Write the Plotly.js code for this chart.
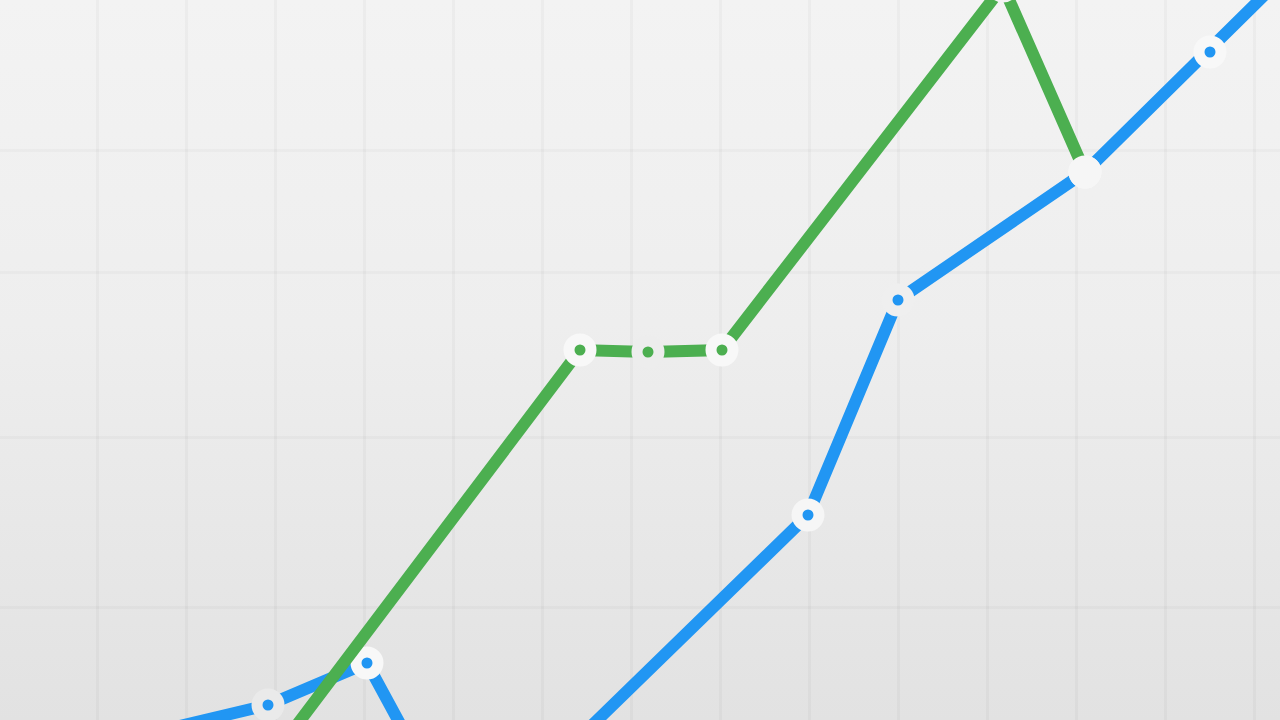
<!DOCTYPE html>
<html>
<head>
<meta charset="utf-8">
<script src="https://cdn.plot.ly/plotly-3.0.1.min.js"></script>
<style>
  html, body { margin: 0; padding: 0; width: 1280px; height: 720px; overflow: hidden; }
  body { background: linear-gradient(to bottom, #f3f3f3 0%, #eeeeee 45%, #e2e2e2 100%); }
  #chart { width: 1280px; height: 720px; }
</style>
</head>
<body>
<div id="chart"></div>
<script>
// Values (x along the chart, y upward)
const blueX = [100, 268, 367, 467, 808, 898, 1085, 1210, 1300];
const blueY = [-25, 15, 57, -127, 205, 420, 548, 668, 760];
const greenX = [250, 580, 648, 722, 1003, 1085];
const greenY = [-67, 370, 368, 370, 734, 548];
const gridX = [97, 186, 275, 364, 453, 542, 631, 720, 809, 898, 987, 1076, 1165, 1254];
const gridY = [113, 283, 448, 570];

const blueColor = '#2196f3';
const greenColor = '#4caf50';

const blueHalo = ['#f4f4f4', '#eaeaea', '#f8f8f8', '#f4f4f4', '#f6f6f6', '#efefef', '#f8f8f8', '#f8f8f8', '#f8f8f8'];
const blueFill = blueX.map(() => blueColor);
const greenHalo = ['#f4f4f4', '#f8f8f8', '#ededed', '#f8f8f8', '#f3f3f3', '#f6f6f6'];
const greenFill = greenX.map((v, i) => i === greenX.length - 1 ? '#f6f6f6' : greenColor);

const traces = [
  {
    x: blueX, y: blueY, type: 'scatter', mode: 'lines+markers',
    line: { color: blueColor, width: 12 },
    marker: { size: 22, color: blueFill, line: { color: blueHalo, width: 11 } },
    hoverinfo: 'skip'
  },
  {
    x: greenX, y: greenY, type: 'scatter', mode: 'lines+markers',
    line: { color: greenColor, width: 12 },
    marker: { size: 22, color: greenFill, line: { color: greenHalo, width: 11 } },
    hoverinfo: 'skip'
  }
];

const layout = {
  width: 1280, height: 720,
  margin: { l: 0, r: 0, t: 0, b: 0, pad: 0 },
  paper_bgcolor: 'rgba(0,0,0,0)',
  plot_bgcolor: 'rgba(0,0,0,0)',
  showlegend: false,
  xaxis: {
    range: [0, 1280], tickmode: 'array', tickvals: gridX, showticklabels: false,
    showgrid: true, gridcolor: 'rgba(0,0,0,0.028)', gridwidth: 3,
    zeroline: false, showline: false, ticks: '', fixedrange: true
  },
  yaxis: {
    range: [0, 720], tickmode: 'array', tickvals: gridY, showticklabels: false,
    showgrid: true, gridcolor: 'rgba(0,0,0,0.025)', gridwidth: 3,
    zeroline: false, showline: false, ticks: '', fixedrange: true
  }
};

Plotly.newPlot('chart', traces, layout, { displayModeBar: false, staticPlot: true });
</script>
</body>
</html>
